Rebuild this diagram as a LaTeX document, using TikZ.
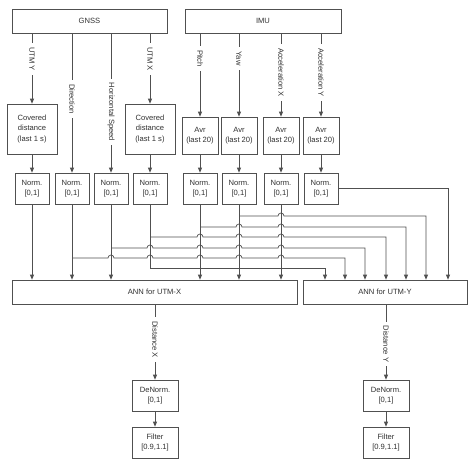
\documentclass[tikz,border=0pt]{standalone}
\usepackage{fontspec}
\setmainfont{Liberation Sans}
\usetikzlibrary{arrows.meta}
\definecolor{linec}{HTML}{505050}
\definecolor{textc}{HTML}{303030}
\begin{document}
\begin{tikzpicture}[x=1pt,y=-1pt,
  every node/.style={font=\fontsize{7.6}{10.5}\selectfont, text=textc},
  box/.style={draw=linec, line width=0.7pt, align=center, inner sep=0pt},
  conn/.style={draw=linec, line width=0.7pt},
  arr/.style={conn, -{Triangle[length=5pt,width=4pt]}},
  lab/.style={fill=white, rotate=-90, inner xsep=4pt, inner ysep=0.5pt},
  src/.style={box, minimum width=156pt, minimum height=24pt},
  covbox/.style={box, minimum width=50pt, minimum height=50pt},
  avrbox/.style={box, minimum width=36pt, minimum height=37pt},
  normbox/.style={box, minimum width=34pt, minimum height=31pt},
  annbox/.style={box, minimum height=24pt},
  outbox/.style={box, minimum width=46pt, minimum height=31pt},
]
\useasboundingbox (0,0) rectangle (474,467);

% sources
\node[src, minimum width=155pt] (gnss) at (89.5,21) {GNSS};
\node[src] (imu) at (263,21) {IMU};

% preprocessing
\node[covbox] (cov1) at (32,129) {Covered\\distance\\(last 1 s)};
\node[covbox] (cov2) at (150,129) {Covered\\distance\\(last 1 s)};
\node[avrbox] (avr1) at (200,135.5) {Avr\\(last 20)};
\node[avrbox] (avr2) at (239,135.5) {Avr\\(last 20)};
\node[avrbox] (avr3) at (281,135.5) {Avr\\(last 20)};
\node[avrbox] (avr4) at (321,135.5) {Avr\\(last 20)};

\node[normbox] (norm1) at (32,188.5) {Norm.\\{[0,1]}};
\node[normbox] (norm2) at (72,188.5) {Norm.\\{[0,1]}};
\node[normbox] (norm3) at (111,188.5) {Norm.\\{[0,1]}};
\node[normbox] (norm4) at (150,188.5) {Norm.\\{[0,1]}};
\node[normbox] (norm5) at (200,188.5) {Norm.\\{[0,1]}};
\node[normbox] (norm6) at (239,188.5) {Norm.\\{[0,1]}};
\node[normbox] (norm7) at (281,188.5) {Norm.\\{[0,1]}};
\node[normbox] (norm8) at (321,188.5) {Norm.\\{[0,1]}};

% networks
\node[annbox, minimum width=285pt] (annx) at (154.5,292) {ANN for UTM-X};
\node[annbox, minimum width=164pt] (anny) at (385,292) {ANN for UTM-Y};

% outputs
\node[outbox] (denx) at (155,395.5) {DeNorm.\\{[0,1]}};
\node[outbox] (filx) at (155,442.5) {Filter\\{[0.9,1.1]}};
\node[outbox] (deny) at (386,395.5) {DeNorm.\\{[0,1]}};
\node[outbox] (fily) at (386,442.5) {Filter\\{[0.9,1.1]}};

% source -> preprocessing
\draw[arr] (cov1.north |- gnss.south) -- (cov1.north);
\draw[arr] (norm2.north |- gnss.south) -- (norm2.north);
\draw[arr] (norm3.north |- gnss.south) -- (norm3.north);
\draw[arr] (cov2.north |- gnss.south) -- (cov2.north);
\foreach \i in {1,2,3,4} {
  \draw[arr] (avr\i.north |- imu.south) -- (avr\i.north);
}
\draw[arr] (cov1.south) -- (norm1.north);
\draw[arr] (cov2.south) -- (norm4.north);
\draw[arr] (avr1.south) -- (norm5.north);
\draw[arr] (avr2.south) -- (norm6.north);
\draw[arr] (avr3.south) -- (norm7.north);
\draw[arr] (avr4.south) -- (norm8.north);

% labels on source lines
\node[lab] (lutmy) at (32,59) {UTM Y};
\node[lab] (ldir) at (72,99) {Direction};
\node[lab] (lhs) at (111,112) {Horizontal Speed};
\node[lab] (lutmx) at (150,59) {UTM X};
\node[lab] (lpitch) at (200,58.5) {Pitch};
\node[lab] (lyaw) at (239,58.5) {Yaw};
\node[lab] (lax) at (281,72.5) {Acceleration X};
\node[lab] (lay) at (321,72.5) {Acceleration Y};

% norm -> ANN-X
\foreach \n in {norm1,norm2,norm3,norm5,norm6,norm7} {
  \draw[arr] (\n.south) -- (\n.south |- annx.north);
}

% norm -> ANN-Y
\draw[arr] (norm4.south) -- (norm4.south |- 0,268) -- (325,268) -- (325,0 |- anny.north);
\draw[arr] (norm2.south |- 0,258)
  foreach \x in {111,150,200,239,281} { -- (\x-3,258) arc[start angle=180,end angle=0,radius=3pt] }
  -- (345,258) -- (345,0 |- anny.north);
\draw[arr] (norm3.south |- 0,248)
  foreach \x in {150,200,239,281} { -- (\x-3,248) arc[start angle=180,end angle=0,radius=3pt] }
  -- (365,248) -- (365,0 |- anny.north);
\draw[arr] (norm4.south |- 0,237)
  foreach \x in {200,239,281} { -- (\x-3,237) arc[start angle=180,end angle=0,radius=3pt] }
  -- (386,237) -- (386,0 |- anny.north);
\draw[arr] (norm5.south |- 0,227)
  foreach \x in {239,281} { -- (\x-3,227) arc[start angle=180,end angle=0,radius=3pt] }
  -- (406,227) -- (406,0 |- anny.north);
\draw[arr] (norm6.south |- 0,216)
  foreach \x in {281} { -- (\x-3,216) arc[start angle=180,end angle=0,radius=3pt] }
  -- (426,216) -- (426,0 |- anny.north);
\draw[arr] (norm8.east) -- (448,0 |- norm8.east) -- (448,0 |- anny.north);

% outputs
\draw[arr] (denx.north |- annx.south) -- (denx.north);
\draw[arr] (deny.north |- anny.south) -- (deny.north);
\node[lab] (ldx) at (155,339.5) {Distance X};
\node[lab] (ldy) at (386,344) {Distance Y};
\draw[arr] (denx.south) -- (filx.north);
\draw[arr] (deny.south) -- (fily.north);
\end{tikzpicture}
\end{document}
